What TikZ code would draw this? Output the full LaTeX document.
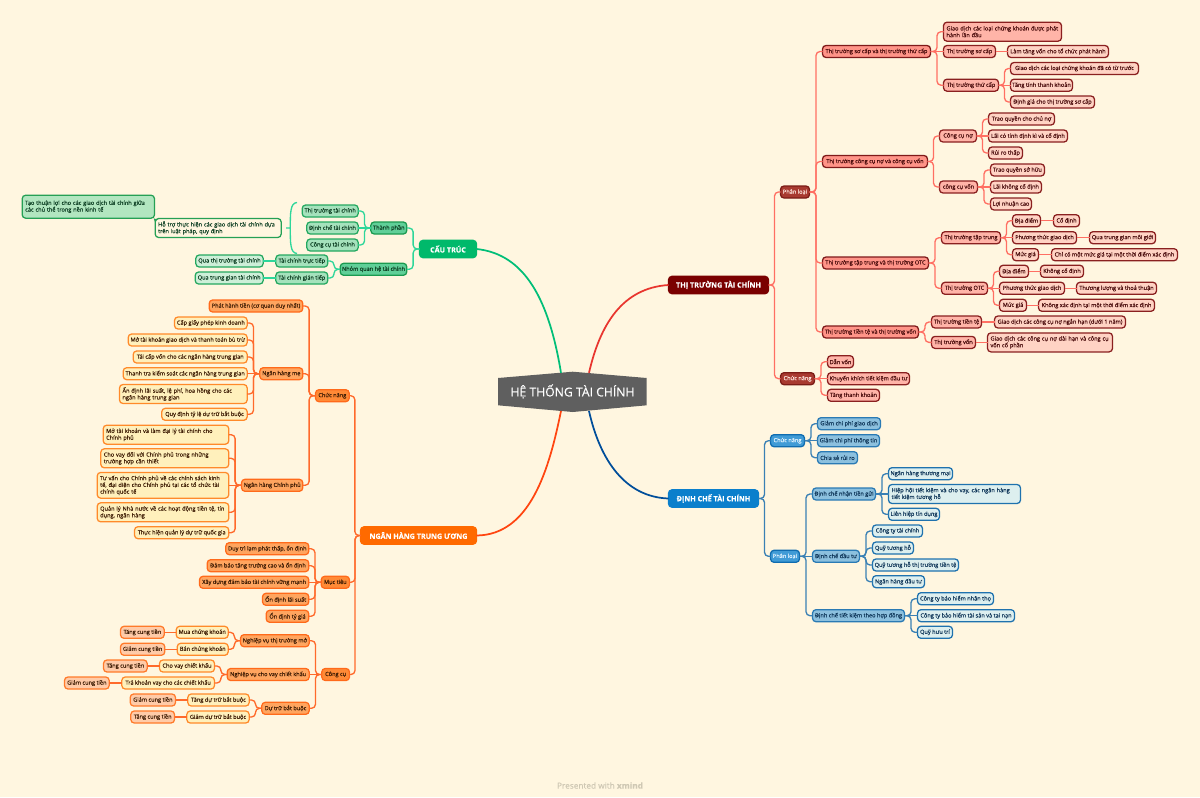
\documentclass[tikz,border=0pt]{standalone}
\usepackage{fontspec}
\setmainfont{Open Sans}[FakeBold=0.22]
\usetikzlibrary{calc}
\newcommand\hx[1]{\definecolor{#1}{HTML}{#1}}
\definecolor{bgc}{HTML}{FFF6E0}
\definecolor{conR}{HTML}{FF6F63}
\definecolor{conB}{HTML}{3A80B4}
\definecolor{conG}{HTML}{2ED69A}
\definecolor{conO}{HTML}{FF6A2B}
\definecolor{txR}{HTML}{4A0C0C}
\definecolor{txB}{HTML}{0E3558}
\definecolor{txG}{HTML}{0C3E22}
\definecolor{txO}{HTML}{3E1C04}
\hx{A83A30}\hx{7B1C16}\hx{FFE8E0}\hx{FF9488}\hx{7F1A1A}\hx{FFB4A8}\hx{8A2020}\hx{FFD3C4}
\hx{409BD6}\hx{0F6CB0}\hx{E4F4FF}\hx{8CC0DE}\hx{2A7AB4}\hx{DDEFEF}\hx{1F72AE}
\hx{60CF98}\hx{1A9A50}\hx{A5E2BC}\hx{25A860}\hx{CDEFD8}\hx{25A055}\hx{B2E6C0}
\hx{FF8A36}\hx{FF6A1A}\hx{FFA55F}\hx{FFF0BC}\hx{FF8A2A}\hx{FFCBA8}\hx{FF7A2A}
\hx{5F5F5F}\hx{7A0000}\hx{0A7FCC}\hx{00B96B}\hx{FF6A00}\hx{00BE78}\hx{E8352E}\hx{004E9A}\hx{FF4510}\hx{CFC8B4}
\newcommand\fs{\fontsize{4.2}{5.05}\selectfont}
\tikzset{
 box/.style={draw,rounded corners=2.6pt,line width=0.95pt,inner sep=0pt,outer sep=0pt,font=\fs,align=center,minimum height=9pt},
 rootb/.style={box,font=\fontsize{5.4}{6.6}\selectfont\bfseries,text=white,minimum height=13pt},
 r2/.style={box,fill=A83A30,draw=7B1C16,text=FFE8E0},
 r3/.style={box,fill=FF9488,draw=7F1A1A,text=txR},
 r4/.style={box,fill=FFB4A8,draw=8A2020,text=txR},
 r5/.style={box,fill=FFD3C4,draw=8A2020,text=txR},
 b2/.style={box,fill=409BD6,draw=0F6CB0,text=E4F4FF},
 b3/.style={box,fill=8CC0DE,draw=2A7AB4,text=txB},
 b4/.style={box,fill=DDEFEF,draw=1F72AE,text=txB},
 g2/.style={box,fill=60CF98,draw=1A9A50,text=txG},
 g3/.style={box,fill=A5E2BC,draw=25A860,text=txG},
 g4/.style={box,fill=CDEFD8,draw=25A860,text=txG},
 g5/.style={box,fill=bgc,draw=25A055,text=txG},
 g1/.style={box,fill=B2E6C0,draw=25A055,text=txG},
 o2/.style={box,fill=FF8A36,draw=FF6A1A,text=txO},
 o3/.style={box,fill=FFA55F,draw=FF6A1A,text=txO},
 o4/.style={box,fill=FFF0BC,draw=FF8A2A,text=txO},
 o5/.style={box,fill=FFCBA8,draw=FF7A2A,text=txO},
 conn/.style={line width=1pt,rounded corners=3pt},
 curve/.style={line width=1.3pt},
}
% single-line node: name,x1,x2,yc,style,text
\newcommand\nd[6]{\node[#5,minimum width={(#3-#2-1)*0.75pt}] (#1) at ({(#2+#3)/2},#4) {#6};}
% multi-line node: name,x1,x2,yc,height,style,text
\newcommand\ndm[7]{\node[#6,minimum height={(#5-1)*0.75pt},text width={(#3-#2-7)*0.75pt},inner xsep=2.25pt,align=left] (#1) at ({(#2+#3)/2},#4) {#7};}
% connectors: elbow (R/L) and straight (SR/SL)
\newcommand\cR[3]{\draw[conn,#1] (#2.east) -- ($(#2.east)!.5!(#3.west |- #2.east)$) |- (#3.west);}
\newcommand\cL[3]{\draw[conn,#1] (#2.west) -- ($(#2.west)!.5!(#3.east |- #2.west)$) |- (#3.east);}
\newcommand\cSR[3]{\draw[conn,#1] (#2.east) -- (#3.west);}
\newcommand\cSL[3]{\draw[conn,#1] (#2.west) -- (#3.east);}
\begin{document}
\begin{tikzpicture}[x=0.75pt,y=-0.75pt]
\fill[bgc] (0,0) rectangle (1200,797);
\useasboundingbox (0,0) rectangle (1200,797);
% centre
\fill[fill=5F5F5F] (498,378) -- (572.7,371.7) -- (646.7,378) -- (646.7,405.3) -- (572.7,412) -- (498,405.3) -- cycle;
\node[text=white,font=\fontsize{9.15}{12}\selectfont,inner sep=0pt,minimum width=111pt,minimum height=30pt] (ctr) at (572.5,391.5) {HỆ THỐNG TÀI CHÍNH};
% roots
\nd{tt}{668}{769}{285}{rootb,fill=7A0000,draw=7A0000}{THỊ TRƯỜNG TÀI CHÍNH}
\nd{dc}{668}{759}{498.5}{rootb,fill=0A7FCC,draw=0A7FCC}{ĐỊNH CHẾ TÀI CHÍNH}
\nd{ct}{419}{477}{249}{rootb,fill=00B96B,draw=00B96B}{CẤU TRÚC}
\nd{nh}{360}{477}{535.5}{rootb,fill=FF6A00,draw=FF6A00}{NGÂN HÀNG TRUNG ƯƠNG}
% curves
\draw[curve,color=00BE78] (ct.east) .. controls (525,254) and (549,300) .. (561,372.8);
\draw[curve,color=E8352E] (tt.west) .. controls (622,288) and (600,325) .. (589,372.8);
\draw[curve,color=004E9A] (dc.west) .. controls (625,497) and (600,460) .. (589,411);
\draw[curve,color=FF4510] (nh.east) .. controls (530,535) and (549,470) .. (561,411);
% RED
\nd{r1}{780}{810}{192}{r2}{Phân loại}
\nd{r2n}{780}{815}{378.7}{r2}{Chức năng}
\nd{ra}{822}{931}{51.5}{r3}{Thị trường sơ cấp và thị trường thứ cấp}
\nd{rb}{822}{928}{161.5}{r3}{Thị trường công cụ nợ và công cụ vốn}
\nd{rc}{822}{929}{263}{r3}{Thị trường tập trung và thị trường OTC}
\nd{rd}{822}{919}{332}{r3}{Thị trường tiền tệ và thị trường vốn}
\ndm{ra1}{943}{1062}{31.7}{20}{r4}{Giao dịch các loại chứng khoán được phát hành lần đầu}
\nd{ra2}{943}{996}{51.5}{r4}{Thị trường sơ cấp}
\nd{ra3}{943}{999}{85.2}{r4}{Thị trường thứ cấp}
\nd{ra2a}{1007}{1109}{51.5}{r5}{Làm tăng vốn cho tổ chức phát hành}
\nd{ra3a}{1010}{1139}{68.5}{r5}{Giao dịch các loại chứng khoán đã có từ trước}
\nd{ra3b}{1010}{1073}{85.2}{r5}{Tăng tính thanh khoản}
\nd{ra3c}{1010}{1095}{102}{r5}{Định giá cho thị trường sơ cấp}
\nd{rb1}{939}{977}{136}{r4}{Công cụ nợ}
\nd{rb2}{939}{978}{187}{r4}{công cụ vốn}
\nd{rb1a}{988}{1055}{119}{r5}{Trao quyền cho chủ nợ}
\nd{rb1b}{988}{1068}{136}{r5}{Lãi có tính định kì và cố định}
\nd{rb1c}{988}{1023}{153}{r5}{Rủi ro thấp}
\nd{rb2a}{990}{1045}{170}{r5}{Trao quyền sở hữu}
\nd{rb2b}{990}{1042}{187}{r5}{Lãi không cố định}
\nd{rb2c}{990}{1032}{204}{r5}{Lợi nhuận cao}
\nd{rc1}{941}{1001}{237.7}{r4}{Thị trường tập trung}
\nd{rc2}{941}{988}{288.3}{r4}{Thị trường OTC}
\nd{rc1a}{1012}{1041}{220.7}{r5}{Địa điểm}
\nd{rc1b}{1012}{1077}{237.7}{r5}{Phương thức giao dịch}
\nd{rc1c}{1012}{1039}{254.7}{r5}{Mức giá}
\nd{rc1ax}{1053}{1080}{220.7}{r5}{Cố định}
\nd{rc1bx}{1089}{1156}{237.7}{r5}{Qua trung gian môi giới}
\nd{rc1cx}{1051}{1178}{254.7}{r5}{Chỉ có một mức giá tại một thời điểm xác định}
\nd{rc2a}{999}{1029}{271.3}{r5}{Địa điểm}
\nd{rc2b}{999}{1065}{288.3}{r5}{Phương thức giao dịch}
\nd{rc2c}{999}{1027}{305.3}{r5}{Mức giá}
\nd{rc2ax}{1040}{1084}{271.3}{r5}{Không cố định}
\nd{rc2bx}{1076}{1157}{288.3}{r5}{Thương lượng và thoả thuận}
\nd{rc2cx}{1038}{1155}{305.3}{r5}{Không xác định tại một thời điểm xác định}
\nd{rd1}{931}{982}{322}{r4}{Thị trường tiền tệ}
\nd{rd2}{931}{976}{342.4}{r4}{Thị trường vốn}
\nd{rd1a}{994}{1126}{322}{r5}{Giao dịch các công cụ nợ ngắn hạn (dưới 1 năm)}
\ndm{rd2a}{987}{1113}{342.4}{20}{r5}{Giao dịch các công cụ nợ dài hạn và công cụ vốn cổ phần}
\nd{re1}{827}{854}{361.7}{r4}{Dẫn vốn}
\nd{re2}{827}{910}{378.7}{r4}{Khuyến khích tiết kiệm đầu tư}
\nd{re3}{827}{880}{395.3}{r4}{Tăng thanh khoản}
\foreach \p/\c in {tt/r1,tt/r2n,r1/ra,r1/rb,r1/rc,r1/rd,ra/ra1,ra/ra3,ra3/ra3a,ra3/ra3c,rb/rb1,rb/rb2,rb1/rb1a,rb1/rb1c,rb2/rb2a,rb2/rb2c,rc/rc1,rc/rc2,rc1/rc1a,rc1/rc1c,rc2/rc2a,rc2/rc2c,rd/rd1,rd/rd2,r2n/re1,r2n/re3}{\cR{conR}{\p}{\c}}
\foreach \p/\c in {ra/ra2,ra2/ra2a,ra3/ra3b,rb1/rb1b,rb2/rb2b,rc1/rc1b,rc1a/rc1ax,rc1b/rc1bx,rc1c/rc1cx,rc2/rc2b,rc2a/rc2ax,rc2b/rc2bx,rc2c/rc2cx,rd1/rd1a,rd2/rd2a,r2n/re2}{\cSR{conR}{\p}{\c}}
% BLUE
\nd{b1}{770}{805}{440.7}{b2}{Chức năng}
\nd{b2n}{770}{800}{556.3}{b2}{Phân loại}
\nd{b1a}{817}{881}{423.7}{b3}{Giảm chi phí giao dịch}
\nd{b1b}{817}{880}{440.7}{b3}{Giảm chi phí thông tin}
\nd{b1c}{817}{858}{457.7}{b3}{Chia sẻ rủi ro}
\nd{ba}{812}{876}{494}{b3}{Định chế nhận tiền gửi}
\nd{bb}{812}{860}{556.3}{b3}{Định chế đầu tư}
\nd{bc}{812}{905}{615.7}{b3}{Định chế tiết kiệm theo hợp đồng}
\nd{ba1}{888}{953}{473.7}{b4}{Ngân hàng thương mại}
\ndm{ba2}{888}{1021}{494}{20}{b4}{Hiệp hội tiết kiệm và cho vay, các ngân hàng tiết kiệm tương hỗ}
\nd{ba3}{888}{940}{514.3}{b4}{Liên hiệp tín dụng}
\nd{bb1}{872}{923}{531}{b4}{Công ty tài chính}
\nd{bb2}{872}{914}{548}{b4}{Quỹ tương hỗ}
\nd{bb3}{872}{959}{565}{b4}{Quỹ tương hỗ thị trường tiền tệ}
\nd{bb4}{872}{925}{581.7}{b4}{Ngân hàng đầu tư}
\nd{bc1}{917}{994}{598.7}{b4}{Công ty bảo hiểm nhân thọ}
\nd{bc2}{917}{1015}{615.7}{b4}{Công ty bảo hiểm tài sản và tai nạn}
\nd{bc3}{917}{953}{632.3}{b4}{Quỹ hưu trí}
\foreach \p/\c in {dc/b1,dc/b2n,b1/b1a,b1/b1c,b2n/ba,b2n/bc,ba/ba1,ba/ba3,bb/bb1,bb/bb2,bb/bb3,bb/bb4,bc/bc1,bc/bc3}{\cR{conB}{\p}{\c}}
\foreach \p/\c in {b1/b1b,b2n/bb,ba/ba2,bc/bc2}{\cSR{conB}{\p}{\c}}
% GREEN
\nd{g1n}{370.3}{407.3}{228}{g2}{Thành phần}
\nd{g2n}{339.7}{407.3}{269.3}{g2}{Nhóm quan hệ tài chính}
\nd{g1a}{301.7}{358.7}{211}{g3}{Thị trường tài chính}
\nd{g1b}{306.3}{358.7}{228}{g3}{Định chế tài chính}
\nd{g1c}{306.3}{358.7}{245}{g3}{Công cụ tài chính}
\nd{g2a}{275.3}{328.3}{261}{g3}{Tài chính trực tiếp}
\nd{g2b}{275.3}{328.3}{278}{g3}{Tài chính gián tiếp}
\nd{g2ax}{195.3}{263.7}{261}{g4}{Qua thị trường tài chính}
\nd{g2bx}{194.7}{263.7}{278}{g4}{Qua trung gian tài chính}
\ndm{tao}{21.7}{155}{206.7}{24}{g1}{Tạo thuận lợi cho các giao dịch tài chính giữa các chủ thể trong nền kinh tế}
\ndm{hotro}{154.7}{281.7}{228}{20}{g5}{Hỗ trợ thực hiện các giao dịch tài chính dựa trên luật pháp, quy định}
\foreach \p/\c in {ct/g1n,ct/g2n,g1n/g1a,g1n/g1c,g2n/g2a,g2n/g2b}{\cL{conG}{\p}{\c}}
\foreach \p/\c in {g1n/g1b,g2a/g2ax,g2b/g2bx}{\cSL{conG}{\p}{\c}}
\coordinate (brtip) at (286,228);
\draw[line width=1pt,conG] (brtip) -- (290.3,228) .. controls (290.3,214) and (290,203) .. (297,202.5)
  (290.3,228) .. controls (290.3,242) and (290,253) .. (297,253.5);
\fill[color=25A055] (hotro.north west) ++(-1.6,-0.2) -- ++(4,1.4) -- ++(-2.8,2) -- cycle;
% ORANGE
\nd{o1}{315}{349.7}{395.7}{o2}{Chức năng}
\nd{o2n}{320.7}{350}{582.3}{o2}{Mục tiêu}
\nd{o3n}{321.3}{350}{674.5}{o2}{Công cụ}
\nd{oa}{208.7}{303.3}{306}{o3}{Phát hành tiền (cơ quan duy nhất)}
\nd{ob}{259.3}{303.3}{373.7}{o3}{Ngân hàng mẹ}
\nd{oc}{241}{303.3}{485.3}{o3}{Ngân hàng Chính phủ}
\nd{ob1}{174}{247.7}{323}{o4}{Cấp giấy phép kinh doanh}
\nd{ob2}{127.7}{247.7}{340}{o4}{Mở tài khoản giao dịch và thanh toán bù trừ}
\nd{ob3}{132.7}{247.7}{357}{o4}{Tái cấp vốn cho các ngân hàng trung gian}
\nd{ob4}{122.7}{247.7}{373.7}{o4}{Thanh tra kiểm soát các ngân hàng trung gian}
\ndm{ob5}{119}{247.7}{394}{20}{o4}{Ấn định lãi suất, lệ phí, hoa hồng cho các ngân hàng trung gian}
\nd{ob6}{161.3}{247.7}{414.3}{o4}{Quy định tỷ lệ dự trữ bắt buộc}
\ndm{oc1}{102.7}{229.3}{434.7}{20}{o4}{Mở tài khoản và làm đại lý tài chính cho Chính phủ}
\ndm{oc2}{100.3}{229.3}{458.3}{20}{o4}{Cho vay đối với Chính phủ trong những trường hợp cần thiết}
\ndm{oc3}{96.7}{229.3}{485.3}{26.7}{o4}{Tư vấn cho Chính phủ về các chính sách kinh tế, đại diện cho Chính phủ tại các tổ chức tài chính quốc tế}
\ndm{oc4}{96.7}{229.3}{512.3}{20}{o4}{Quản lý Nhà nước về các hoạt động tiền tệ, tín dụng, ngân hàng}
\nd{oc5}{134}{229.3}{532.7}{o4}{Thực hiện quản lý dự trữ quốc gia}
\nd{om1}{225.3}{309.3}{548.7}{o3}{Duy trì lạm phát thấp, ổn định}
\nd{om2}{206.7}{309.3}{565.7}{o3}{Đảm bảo tăng trưởng cao và ổn định}
\nd{om3}{199}{309.3}{582.3}{o3}{Xây dựng đảm bảo tài chính vững mạnh}
\nd{om4}{262}{309.3}{599.3}{o3}{Ổn định lãi suất}
\nd{om5}{265.7}{309.3}{616.3}{o3}{Ổn định tỷ giá}
\nd{oi1}{240}{309.7}{640.7}{o3}{Nghiệp vụ thị trường mở}
\nd{oi2}{226.7}{309.7}{674.5}{o3}{Nghiệp vụ cho vay chiết khấu}
\nd{oi3}{261.3}{309.7}{708.3}{o3}{Dự trữ bắt buộc}
\nd{oi1a}{175.7}{228.7}{632.3}{o4}{Mua chứng khoán}
\nd{oi1b}{176.7}{228.7}{649.3}{o4}{Bán chứng khoán}
\nd{oi2a}{159}{215}{666}{o4}{Cho vay chiết khấu}
\nd{oi2b}{121.3}{215}{683}{o4}{Trả khoản vay cho các chiết khấu}
\nd{oi3a}{187.3}{249.7}{700}{o4}{Tăng dự trữ bắt buộc}
\nd{oi3b}{186.3}{249.7}{717}{o4}{Giảm dự trữ bắt buộc}
\nd{oi1ax}{120}{164.7}{632.3}{o5}{Tăng cung tiền}
\nd{oi1bx}{120}{165.3}{649.3}{o5}{Giảm cung tiền}
\nd{oi2ax}{103}{147.7}{666}{o5}{Tăng cung tiền}
\nd{oi2bx}{64}{109.7}{683}{o5}{Giảm cung tiền}
\nd{oi3ax}{129.7}{176}{700}{o5}{Giảm cung tiền}
\nd{oi3bx}{130.3}{175}{717}{o5}{Tăng cung tiền}
\foreach \p/\c in {nh/o1,nh/o2n,nh/o3n,o1/oa,o1/ob,o1/oc,ob/ob1,ob/ob2,ob/ob3,ob/ob5,ob/ob6,oc/oc1,oc/oc2,oc/oc4,oc/oc5,o2n/om1,o2n/om2,o2n/om4,o2n/om5,o3n/oi1,o3n/oi3,oi1/oi1a,oi1/oi1b,oi2/oi2a,oi2/oi2b,oi3/oi3a,oi3/oi3b}{\cL{conO}{\p}{\c}}
\foreach \p/\c in {ob/ob4,oc/oc3,o2n/om3,o3n/oi2,oi1a/oi1ax,oi1b/oi1bx,oi2a/oi2ax,oi2b/oi2bx,oi3a/oi3ax,oi3b/oi3bx}{\cSL{conO}{\p}{\c}}
% footer
\node[font=\fontsize{6.2}{7}\selectfont,text=CFC8B4,inner sep=0pt] (foot) at (600,785.5) {Presented with \textbf{xmind}};
\end{tikzpicture}
\end{document}
